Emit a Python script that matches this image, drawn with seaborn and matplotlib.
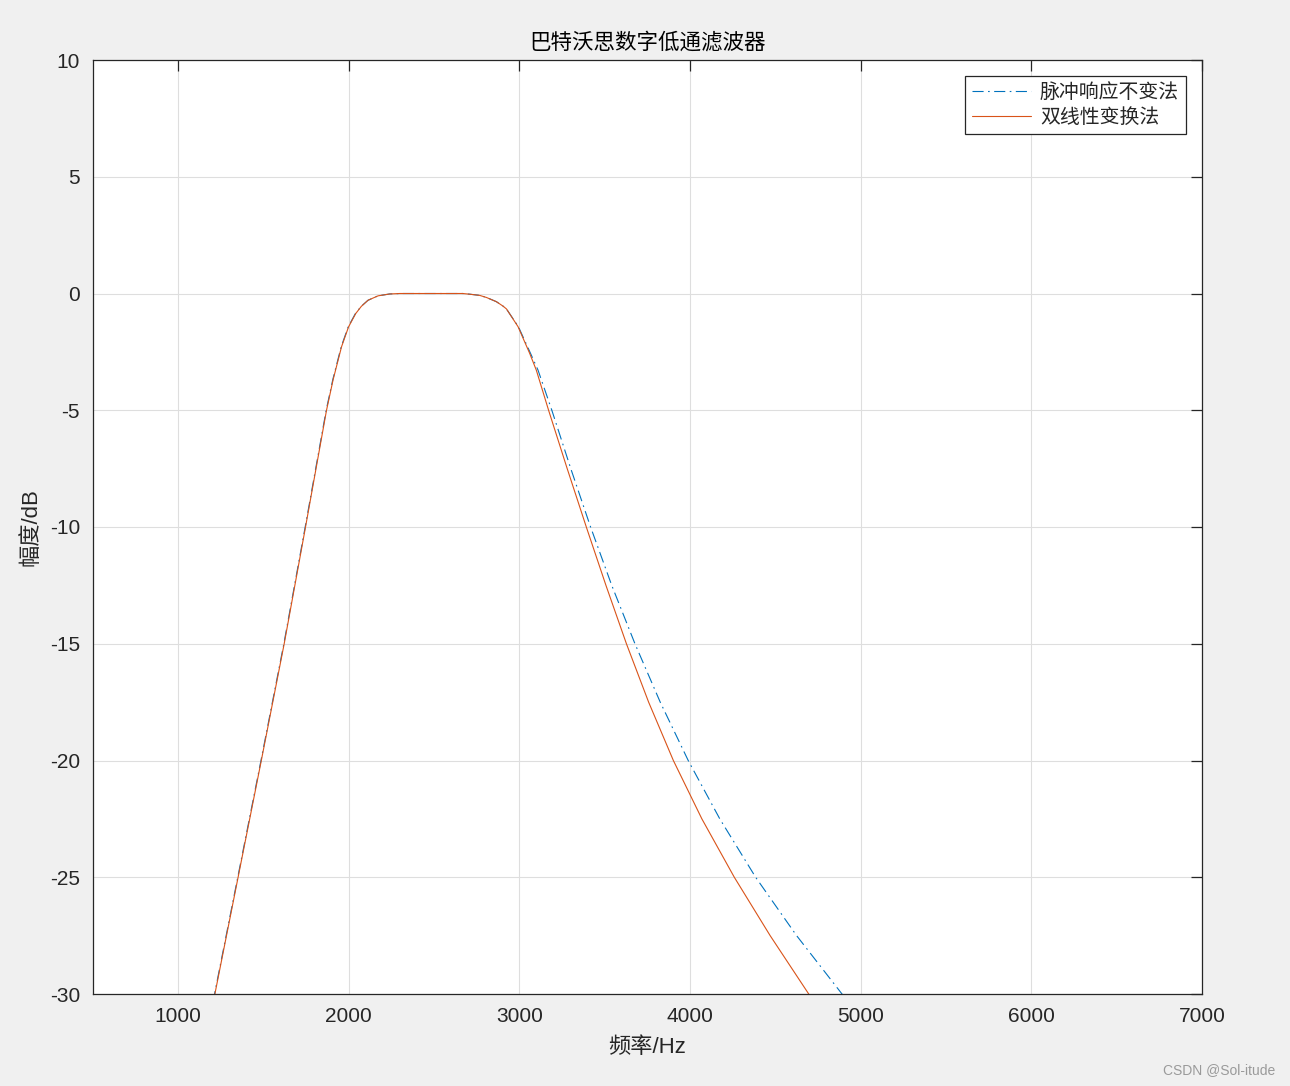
import matplotlib
matplotlib.use("Agg")
import matplotlib.pyplot as plt
import seaborn as sns
import pandas as pd

# ---- data (frequency in Hz, magnitude in dB) ----
bil_freq = [1080, 1217, 1353, 1489, 1623, 1748, 1871, 1910, 1959, 2000, 2042,
            2075, 2114, 2173, 2241, 2300, 2450, 2669, 2710, 2768, 2808, 2866,
            2905, 2925, 2993, 3061, 3100, 3172, 3281, 3393, 3508, 3628, 3758,
            3903, 4070, 4260, 4470, 4696, 5192]
bil_db = [-35, -30, -25, -20, -15, -10, -5, -3.68, -2.28, -1.43, -0.86,
          -0.55, -0.29, -0.1, -0.02, 0, 0, 0, -0.03, -0.08, -0.17, -0.35,
          -0.54, -0.66, -1.42, -2.56, -3.28, -5, -7.5, -10, -12.5, -15, -17.5,
          -20, -22.5, -25, -27.5, -30, -35]

imp_freq = [1078, 1215, 1351, 1487, 1621, 1746, 1869, 1908, 1957, 1998, 2040,
            2074, 2114, 2173, 2241, 2300, 2450, 2669, 2710, 2768, 2808, 2866,
            2905, 2925, 2995, 3066, 3110, 3191, 3302, 3418, 3542, 3678, 3826,
            3990, 4175, 4385, 4625, 4891, 5478]
imp_db = [-35, -30, -25, -20, -15, -10, -5, -3.68, -2.28, -1.43, -0.86,
          -0.55, -0.29, -0.1, -0.02, 0, 0, 0, -0.03, -0.08, -0.17, -0.35,
          -0.54, -0.66, -1.42, -2.56, -3.28, -5, -7.5, -10, -12.5, -15, -17.5,
          -20, -22.5, -25, -27.5, -30, -35]

series_names = ["脉冲响应不变法", "双线性变换法"]
title_text = "巴特沃思数字低通滤波器"
xlabel_text = "频率/Hz"
ylabel_text = "幅度/dB"
xticks = [1000, 2000, 3000, 4000, 5000, 6000, 7000]
yticks = [-30, -25, -20, -15, -10, -5, 0, 5, 10]

sns.set_theme(style="white")
plt.rcParams['font.family'] = ['Liberation Sans', 'Noto Sans CJK SC', 'DejaVu Sans']
plt.rcParams['axes.unicode_minus'] = False

fig = plt.figure(figsize=(12.9, 10.86), dpi=100, facecolor='#f0f0f0')
ax = fig.add_axes([92.5 / 1290, 1 - 994 / 1086, (1202 - 92.5) / 1290, (994 - 60) / 1086])
ax.set_facecolor('white')

df_imp = pd.DataFrame({"f": imp_freq, "db": imp_db})
df_bil = pd.DataFrame({"f": bil_freq, "db": bil_db})

blue = '#0072BD'
red = '#D95319'
dashdot = (0, (10, 4, 1.5, 4))
sns.lineplot(data=df_imp, x="f", y="db", ax=ax, color=blue, linewidth=0.8,
             sort=False, estimator=None, label=series_names[0])
ax.lines[-1].set_linestyle(dashdot)
sns.lineplot(data=df_bil, x="f", y="db", ax=ax, color=red, linewidth=0.8,
             sort=False, estimator=None, label=series_names[1])

ax.set_xlim(500, 7000)
ax.set_ylim(-30, 10)
ax.set_xticks(xticks)
ax.set_yticks(yticks)
ax.set_xticklabels([str(v) for v in xticks])
ax.set_yticklabels([str(v) for v in yticks])

ax.grid(True, color='#dedede', linewidth=0.8)
ax.set_axisbelow(True)
for s in ax.spines.values():
    s.set_color('#262626')
    s.set_linewidth(0.9)
    s.set_visible(True)
ax.tick_params(axis='both', which='both', direction='in', length=8, width=0.9,
               colors='#262626', labelsize=15, top=True, right=True,
               labeltop=False, labelright=False, pad=9)
for lab in ax.get_xticklabels() + ax.get_yticklabels():
    lab.set_color('#262626')

ax.set_title(title_text, fontsize=15.5, color='black', pad=8)
ax.set_xlabel(xlabel_text, fontsize=16, color='#262626', labelpad=8)
ax.set_ylabel(ylabel_text, fontsize=16, color='#262626', labelpad=6)

leg = ax.legend(loc='upper right', fontsize=14.3, frameon=True, fancybox=False,
                edgecolor='#262626', framealpha=1, borderaxespad=0.8,
                handlelength=3.0, handletextpad=0.45, borderpad=0.35, labelspacing=0.3)
leg.get_frame().set_linewidth(0.9)
leg.legend_handles[0].set_linestyle(dashdot)

fig.text(1275 / 1290, 1 - 1070 / 1086, "CSDN @Sol-itude", ha='right', va='center',
         fontsize=10, color='#9a9a9a')

fig.savefig("out.png", dpi=100, facecolor=fig.get_facecolor())
